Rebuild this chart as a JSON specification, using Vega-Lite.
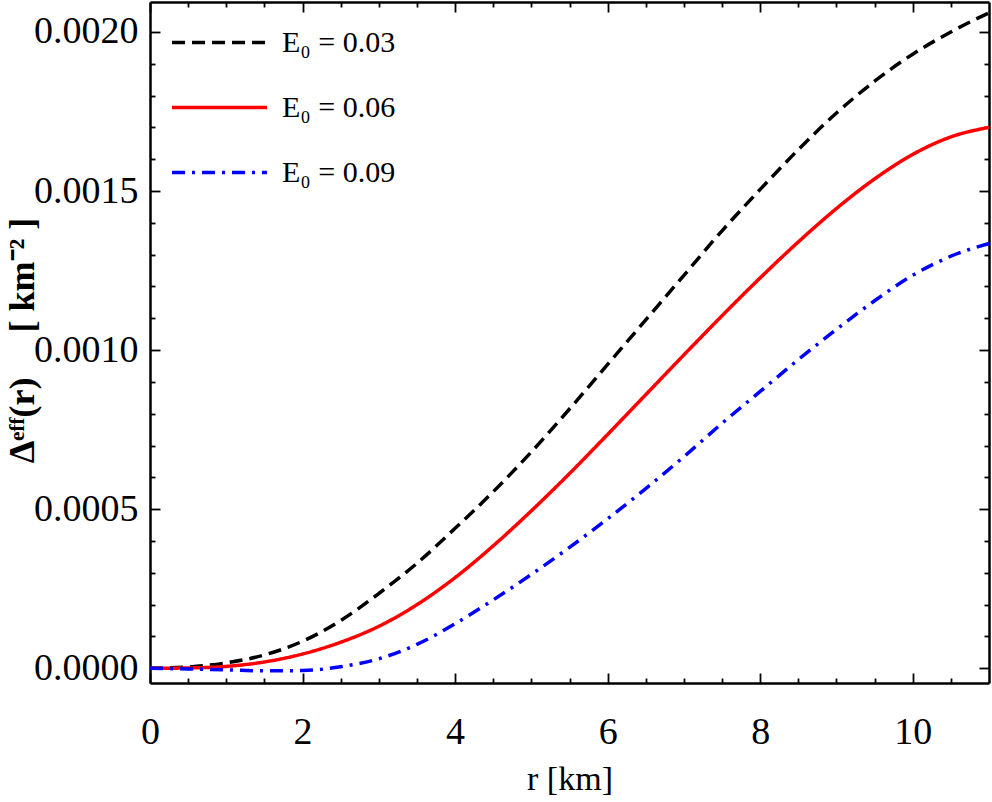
{
  "$schema": "https://vega.github.io/schema/vega-lite/v6.json",
  "width": 839,
  "height": 681,
  "autosize": {"type": "none"},
  "padding": {"left": 150, "top": 2, "right": 3, "bottom": 119},
  "background": "white",
  "config": {
    "view": {"stroke": null},
    "font": "Liberation Serif",
    "axis": {
      "domainColor": "black",
      "domainWidth": 2.5,
      "tickColor": "black",
      "tickWidth": 1.8,
      "labelColor": "black",
      "labelFont": "Liberation Serif",
      "labelFontSize": 38,
      "titleColor": "black",
      "titleFont": "Liberation Serif",
      "grid": false,
      "labelFlush": false,
      "labelOverlap": false
    }
  },
  "data": {
    "values": [
      {"r": 0, "v": 0, "E": "E₀ = 0.03"},
      {"r": 0.5, "v": 0.000004, "E": "E₀ = 0.03"},
      {"r": 1, "v": 0.000017, "E": "E₀ = 0.03"},
      {"r": 1.5, "v": 0.000042, "E": "E₀ = 0.03"},
      {"r": 2, "v": 0.000085, "E": "E₀ = 0.03"},
      {"r": 2.5, "v": 0.00015, "E": "E₀ = 0.03"},
      {"r": 3, "v": 0.000235, "E": "E₀ = 0.03"},
      {"r": 3.5, "v": 0.00033, "E": "E₀ = 0.03"},
      {"r": 4, "v": 0.00044, "E": "E₀ = 0.03"},
      {"r": 4.5, "v": 0.000555, "E": "E₀ = 0.03"},
      {"r": 5, "v": 0.00068, "E": "E₀ = 0.03"},
      {"r": 5.5, "v": 0.000815, "E": "E₀ = 0.03"},
      {"r": 6, "v": 0.000955, "E": "E₀ = 0.03"},
      {"r": 6.5, "v": 0.001095, "E": "E₀ = 0.03"},
      {"r": 7, "v": 0.001235, "E": "E₀ = 0.03"},
      {"r": 7.5, "v": 0.001375, "E": "E₀ = 0.03"},
      {"r": 8, "v": 0.001505, "E": "E₀ = 0.03"},
      {"r": 8.5, "v": 0.00163, "E": "E₀ = 0.03"},
      {"r": 9, "v": 0.001745, "E": "E₀ = 0.03"},
      {"r": 9.5, "v": 0.001845, "E": "E₀ = 0.03"},
      {"r": 10, "v": 0.00193, "E": "E₀ = 0.03"},
      {"r": 10.5, "v": 0.002, "E": "E₀ = 0.03"},
      {"r": 11, "v": 0.00206, "E": "E₀ = 0.03"},
      {"r": 0, "v": 0, "E": "E₀ = 0.06"},
      {"r": 0.5, "v": 0.000001, "E": "E₀ = 0.06"},
      {"r": 1, "v": 0.000006, "E": "E₀ = 0.06"},
      {"r": 1.5, "v": 0.00002, "E": "E₀ = 0.06"},
      {"r": 2, "v": 0.000045, "E": "E₀ = 0.06"},
      {"r": 2.5, "v": 0.000082, "E": "E₀ = 0.06"},
      {"r": 3, "v": 0.000132, "E": "E₀ = 0.06"},
      {"r": 3.5, "v": 0.0002, "E": "E₀ = 0.06"},
      {"r": 4, "v": 0.000285, "E": "E₀ = 0.06"},
      {"r": 4.5, "v": 0.000385, "E": "E₀ = 0.06"},
      {"r": 5, "v": 0.000495, "E": "E₀ = 0.06"},
      {"r": 5.5, "v": 0.000612, "E": "E₀ = 0.06"},
      {"r": 6, "v": 0.000735, "E": "E₀ = 0.06"},
      {"r": 6.5, "v": 0.00086, "E": "E₀ = 0.06"},
      {"r": 7, "v": 0.000985, "E": "E₀ = 0.06"},
      {"r": 7.5, "v": 0.001108, "E": "E₀ = 0.06"},
      {"r": 8, "v": 0.001227, "E": "E₀ = 0.06"},
      {"r": 8.5, "v": 0.00134, "E": "E₀ = 0.06"},
      {"r": 9, "v": 0.001445, "E": "E₀ = 0.06"},
      {"r": 9.5, "v": 0.001538, "E": "E₀ = 0.06"},
      {"r": 10, "v": 0.001615, "E": "E₀ = 0.06"},
      {"r": 10.5, "v": 0.00167, "E": "E₀ = 0.06"},
      {"r": 11, "v": 0.0017, "E": "E₀ = 0.06"},
      {"r": 0, "v": 0, "E": "E₀ = 0.09"},
      {"r": 0.5, "v": -0.000002, "E": "E₀ = 0.09"},
      {"r": 1, "v": -0.000005, "E": "E₀ = 0.09"},
      {"r": 1.5, "v": -0.000008, "E": "E₀ = 0.09"},
      {"r": 2, "v": -0.000007, "E": "E₀ = 0.09"},
      {"r": 2.5, "v": 0.000005, "E": "E₀ = 0.09"},
      {"r": 3, "v": 0.00003, "E": "E₀ = 0.09"},
      {"r": 3.5, "v": 0.000075, "E": "E₀ = 0.09"},
      {"r": 4, "v": 0.00014, "E": "E₀ = 0.09"},
      {"r": 4.5, "v": 0.000215, "E": "E₀ = 0.09"},
      {"r": 5, "v": 0.000295, "E": "E₀ = 0.09"},
      {"r": 5.5, "v": 0.00038, "E": "E₀ = 0.09"},
      {"r": 6, "v": 0.00047, "E": "E₀ = 0.09"},
      {"r": 6.5, "v": 0.000565, "E": "E₀ = 0.09"},
      {"r": 7, "v": 0.000665, "E": "E₀ = 0.09"},
      {"r": 7.5, "v": 0.00077, "E": "E₀ = 0.09"},
      {"r": 8, "v": 0.00087, "E": "E₀ = 0.09"},
      {"r": 8.5, "v": 0.00097, "E": "E₀ = 0.09"},
      {"r": 9, "v": 0.001065, "E": "E₀ = 0.09"},
      {"r": 9.5, "v": 0.001155, "E": "E₀ = 0.09"},
      {"r": 10, "v": 0.001235, "E": "E₀ = 0.09"},
      {"r": 10.5, "v": 0.001295, "E": "E₀ = 0.09"},
      {"r": 11, "v": 0.001335, "E": "E₀ = 0.09"}
    ]
  },
  "layer": [
    {
      "mark": {"type": "line", "strokeWidth": 3.5, "interpolate": "monotone"},
      "encoding": {
        "x": {
          "field": "r", "type": "quantitative",
          "scale": {"domain": [0, 11], "nice": false, "zero": false},
          "axis": {
            "orient": "bottom",
            "title": "r [km]",
            "titleFontSize": 34,
            "titleFontWeight": "normal",
            "titlePadding": 11,
            "values": [0, 2, 4, 6, 8, 10],
            "format": "d",
            "ticks": false,
            "labelPadding": 30
          }
        },
        "y": {
          "field": "v", "type": "quantitative",
          "scale": {"domain": [-0.0000462, 0.002094], "nice": false, "zero": false},
          "axis": {
            "orient": "left",
            "title": "Δᵉᶠᶠ(r)\u00a0\u00a0\u00a0\u00a0\u00a0[\u00a0km⁻²\u00a0]",
            "titleFontSize": 36,
            "titleFontWeight": "bold",
            "titleX": -128,
            "titleY": 338,
            "titleBaseline": "middle",
            "values": [0, 0.0005, 0.001, 0.0015, 0.002],
            "format": ".4f",
            "ticks": false,
            "labelPadding": 12
          }
        },
        "color": {
          "field": "E", "type": "nominal",
          "scale": {"domain": ["E₀ = 0.03", "E₀ = 0.06", "E₀ = 0.09"], "range": ["#000000", "#ff0000", "#0000ff"]},
          "legend": {
            "orient": "none", "legendX": 20, "legendY": -9, "title": null,
            "symbolType": "stroke", "symbolSize": 9025, "symbolStrokeWidth": 3.5,
            "labelFont": "Liberation Serif", "labelFontSize": 30, "labelColor": "black",
            "labelOffset": 13, "rowPadding": 0, "padding": 0, "labelLimit": 300
          }
        },
        "strokeDash": {
          "field": "E", "type": "nominal",
          "scale": {"domain": ["E₀ = 0.03", "E₀ = 0.06", "E₀ = 0.09"], "range": [[13, 7], [1, 0], [13, 7, 3, 7]]},
          "legend": {
            "orient": "none", "legendX": 20, "legendY": -9, "title": null,
            "symbolType": "stroke", "symbolSize": 9025, "symbolStrokeWidth": 3.5,
            "labelFont": "Liberation Serif", "labelFontSize": 30, "labelColor": "black",
            "labelOffset": 13, "rowPadding": 0, "padding": 0, "labelLimit": 300
          }
        }
      }
    },
    {
      "mark": {"type": "line", "opacity": 0},
      "encoding": {
        "x": {"field": "r", "type": "quantitative",
          "axis": {"orient": "top", "offset": -681, "title": null, "labels": false, "domain": false, "values": [0, 2, 4, 6, 8, 10], "tickSize": 10}},
        "y": {"field": "v", "type": "quantitative",
          "axis": {"orient": "right", "offset": -839, "title": null, "labels": false, "domain": false, "values": [0, 0.0005, 0.001, 0.0015, 0.002], "tickSize": 10}},
        "detail": {"field": "E", "type": "nominal"}
      }
    },
    {
      "mark": {"type": "line", "opacity": 0},
      "encoding": {
        "x": {"field": "r", "type": "quantitative",
          "axis": {"orient": "top", "offset": -681, "title": null, "labels": false, "domain": false, "values": [0.5, 1, 1.5, 2.5, 3, 3.5, 4.5, 5, 5.5, 6.5, 7, 7.5, 8.5, 9, 9.5, 10.5], "tickSize": 5}},
        "y": {"field": "v", "type": "quantitative",
          "axis": {"orient": "right", "offset": -839, "title": null, "labels": false, "domain": false, "values": [0.0001, 0.0002, 0.0003, 0.0004, 0.0006, 0.0007, 0.0008, 0.0009, 0.0011, 0.0012, 0.0013, 0.0014, 0.0016, 0.0017, 0.0018, 0.0019], "tickSize": 5}},
        "detail": {"field": "E", "type": "nominal"}
      }
    },
    {
      "mark": {"type": "line", "opacity": 0},
      "encoding": {
        "x": {"field": "r", "type": "quantitative",
          "axis": {"orient": "bottom", "offset": -681, "title": null, "labels": false, "domain": true, "values": [0, 2, 4, 6, 8, 10], "tickSize": 10}},
        "y": {"field": "v", "type": "quantitative",
          "axis": {"orient": "left", "offset": -839, "title": null, "labels": false, "domain": true, "values": [0, 0.0005, 0.001, 0.0015, 0.002], "tickSize": 10}},
        "detail": {"field": "E", "type": "nominal"}
      }
    },
    {
      "mark": {"type": "line", "opacity": 0},
      "encoding": {
        "x": {"field": "r", "type": "quantitative",
          "axis": {"orient": "bottom", "offset": -681, "title": null, "labels": false, "domain": false, "values": [0.5, 1, 1.5, 2.5, 3, 3.5, 4.5, 5, 5.5, 6.5, 7, 7.5, 8.5, 9, 9.5, 10.5], "tickSize": 5}},
        "y": {"field": "v", "type": "quantitative",
          "axis": {"orient": "left", "offset": -839, "title": null, "labels": false, "domain": false, "values": [0.0001, 0.0002, 0.0003, 0.0004, 0.0006, 0.0007, 0.0008, 0.0009, 0.0011, 0.0012, 0.0013, 0.0014, 0.0016, 0.0017, 0.0018, 0.0019], "tickSize": 5}},
        "detail": {"field": "E", "type": "nominal"}
      }
    }
  ],
  "resolve": {"axis": {"x": "independent", "y": "independent"}}
}
